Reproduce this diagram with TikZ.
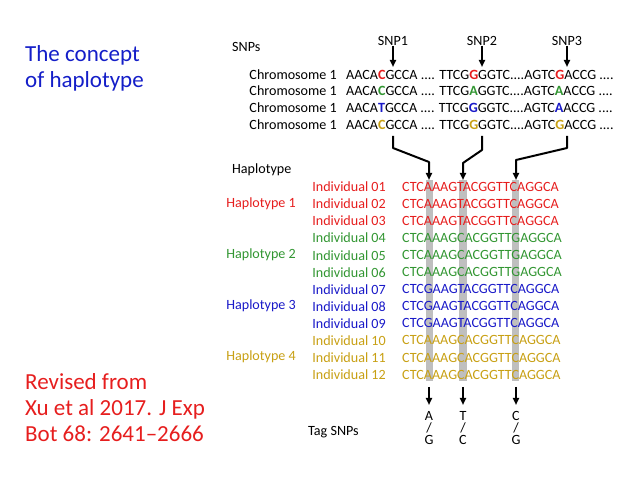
\documentclass[tikz,border=0pt]{standalone}
\usepackage{fontspec}
\setmainfont{Carlito}
\usetikzlibrary{arrows.meta}
\definecolor{cr}{RGB}{230,30,30}
\definecolor{cg}{RGB}{50,150,50}
\definecolor{cb}{RGB}{25,25,200}
\definecolor{cy}{RGB}{200,160,20}
\definecolor{tb}{RGB}{20,30,200}
\begin{document}
\begin{tikzpicture}[x=1pt,y=-1pt,
  txt/.style={font=\fontsize{14.1}{15}\selectfont,inner sep=0pt},
  big/.style={font=\fontsize{23}{26}\selectfont,inner sep=0pt,align=left,anchor=north west},
  arr/.style={-{Triangle[length=7pt,width=6pt]},line width=2pt},
  bar/.style={fill=black!25,draw=none}]
\useasboundingbox (0,0) rectangle (638,478);
\node[big,text=tb] (title) at (25,45) {The concept\\of haplotype};
\node[big,text=cr] (rev) at (25,373) {Revised from\\Xu et al 2017. J Exp\\Bot 68: 2641–2666};
\node[txt,anchor=west] (snps) at (232,47) {SNPs};
\node[txt,anchor=west] (hap) at (232,170) {Haplotype};
\node[txt,anchor=west] (tag) at (308,432) {Tag SNPs};
\node[txt] (s1) at (393,41) {SNP1};
\node[txt] (s2) at (482,41) {SNP2};
\node[txt] (s3) at (567,41) {SNP3};
\newcommand\cl[1]{\textcolor{#1}}
\foreach \i/\y/\a/\ca/\b/\cb/\c/\cc in {1/75/C/cr/G/cr/G/cr,2/91/C/cg/A/cg/A/cg,3/108/T/cb/G/cb/A/cb,4/125/C/cy/G/cy/G/cy}{
  \node[txt,anchor=east] (ch\i) at (337,\y) {Chromosome 1};
  \node[txt,anchor=west] (cs\i) at (346,\y) {AACA\textbf{\cl{\ca}{\a}}GCCA .... TTCG\textbf{\cl{\cb}{\b}}GGTC....AGTC\textbf{\cl{\cc}{\c}}ACCG ....};
}
\coordinate (t1) at (393,67); \coordinate (t2) at (482,67); \coordinate (t3) at (567,67);
\draw[arr] (s1.south) -- (t1);
\draw[arr] (s2.south) -- (t2);
\draw[arr] (s3.south) -- (t3);
% gray bars
\fill[bar] (426,180) rectangle (433,381);
\fill[bar] (459,180) rectangle (467,381);
\fill[bar] (512,180) rectangle (519,381);
\coordinate (a1) at (429,180); \coordinate (a2) at (463,180); \coordinate (a3) at (516,180);
\draw[arr,line join=round] (393,136) -- (393,148) -- (429,162) -- (a1);
\draw[arr,line join=round] (482,136) -- (482,150) -- (463,163) -- (a2);
\draw[arr,line join=round] (567,136) -- (567,148) -- (516,160) -- (a3);
\foreach \n/\col/\s in {1/cr/CTCAAAGTACGGTTCAGGCA,2/cr/CTCAAAGTACGGTTCAGGCA,3/cr/CTCAAAGTACGGTTCAGGCA,4/cg/CTCAAAGCACGGTTGAGGCA,5/cg/CTCAAAGCACGGTTGAGGCA,6/cg/CTCAAAGCACGGTTGAGGCA,7/cb/CTCGAAGTACGGTTCAGGCA,8/cb/CTCGAAGTACGGTTCAGGCA,9/cb/CTCGAAGTACGGTTCAGGCA,10/cy/CTCAAAGCACGGTTCAGGCA,11/cy/CTCAAAGCACGGTTCAGGCA,12/cy/CTCAAAGCACGGTTCAGGCA}{
  \pgfmathsetmacro\yy{187+(\n-1)*17.05}
  \node[txt,anchor=east,text=\col] (ind\n) at (386,\yy) {Individual \ifnum\n<10 0\fi\n};
  \node[txt,anchor=west,text=\col] (seq\n) at (402,\yy) {\s};
}
\node[txt,anchor=east,text=cr] (h1) at (296,204) {Haplotype 1};
\node[txt,anchor=east,text=cg] (h2) at (296,255) {Haplotype 2};
\node[txt,anchor=east,text=cb] (h3) at (296,306) {Haplotype 3};
\node[txt,anchor=east,text=cy] (h4) at (296,357) {Haplotype 4};
\foreach \k/\x/\u/\d in {1/429/A/G,2/463/T/C,3/516/C/G}{
  \coordinate (b\k) at (\x,387);
  \node[txt] (tu\k) at (\x,416) {\u};
  \node[txt] (ts\k) at (\x,428) {/};
  \node[txt] (td\k) at (\x,440) {\d};
  \draw[arr] (b\k) -- (\x,405);
}
\end{tikzpicture}
\end{document}
